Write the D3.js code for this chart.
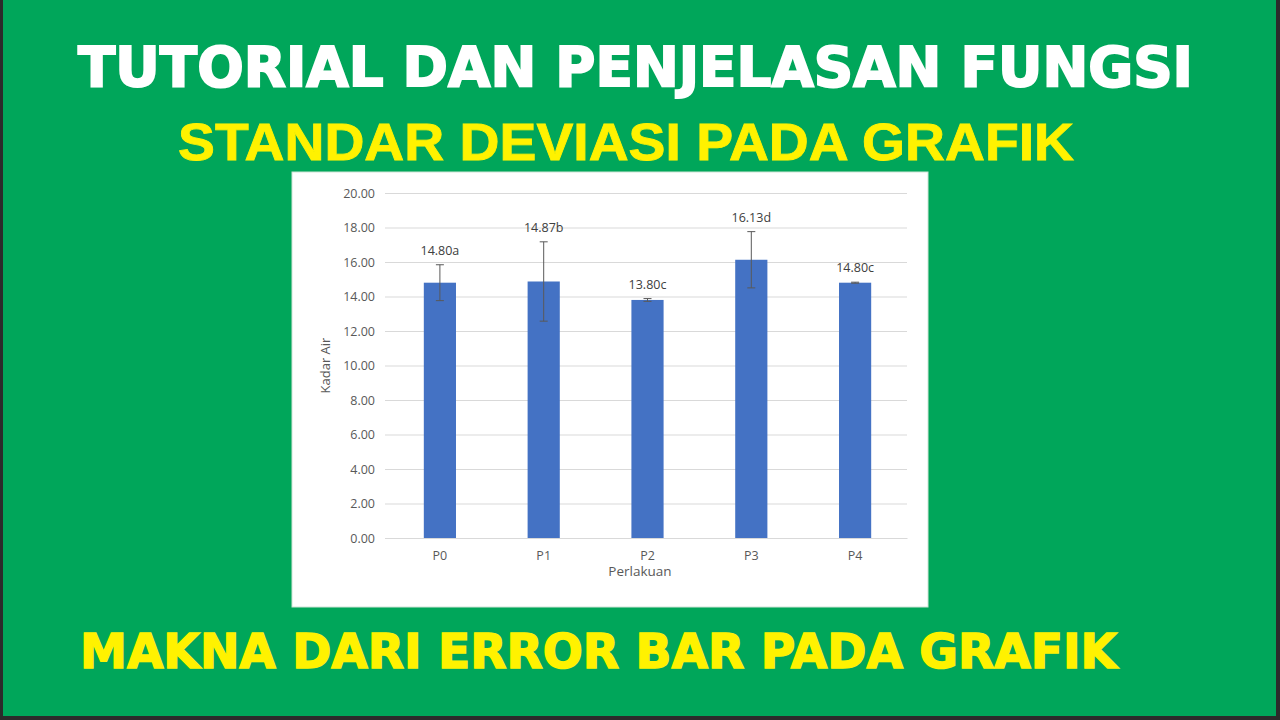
<!DOCTYPE html>
<html lang="id">
<head>
<meta charset="utf-8">
<script src="https://d3js.org/d3.v7.min.js"></script>
<style>
  html, body { margin: 0; padding: 0; background: #2b2b2b; }
  svg { display: block; }
</style>
</head>
<body>
<div id="my_dataviz"></div>
<script>
// data
var perlakuan = ["P0", "P1", "P2", "P3", "P4"];
var kadarAir = [14.80, 14.87, 13.80, 16.13, 14.80];
var stDev = [1.04, 2.30, 0.08, 1.63, 0.03];
var notasi = ["a", "b", "c", "d", "c"];
var yTicks = [0, 2, 4, 6, 8, 10, 12, 14, 16, 18, 20];

var W = 1280, H = 720;

var svg = d3.select("#my_dataviz")
  .append("svg")
    .attr("width", W)
    .attr("height", H);

// dark frame + green slide
svg.append("rect")
    .attr("x", 0).attr("y", 0).attr("width", W).attr("height", H)
    .attr("fill", "#2b2b2b");
svg.append("rect")
    .attr("x", 3).attr("y", 0).attr("width", W - 7).attr("height", H - 4)
    .attr("fill", "#00a65a");

// headings
svg.append("text")
    .attr("x", 78).attr("y", 86)
    .attr("textLength", 1115).attr("lengthAdjust", "spacingAndGlyphs")
    .style("font-family", "'DejaVu Sans', sans-serif")
    .style("font-weight", "bold")
    .style("font-size", "56px")
    .attr("fill", "#ffffff")
    .attr("stroke", "#ffffff").attr("stroke-width", 2)
    .text("TUTORIAL DAN PENJELASAN FUNGSI");

svg.append("text")
    .attr("x", 178).attr("y", 160)
    .attr("textLength", 896).attr("lengthAdjust", "spacingAndGlyphs")
    .style("font-family", "'Liberation Sans', Arial, sans-serif")
    .style("font-weight", "bold")
    .style("font-size", "51px")
    .attr("fill", "#fff200")
    .attr("stroke", "#fff200").attr("stroke-width", 0.8)
    .text("STANDAR DEVIASI PADA GRAFIK");

svg.append("text")
    .attr("x", 80).attr("y", 668)
    .attr("textLength", 1037).attr("lengthAdjust", "spacingAndGlyphs")
    .style("font-family", "'DejaVu Sans', sans-serif")
    .style("font-weight", "bold")
    .style("font-size", "48px")
    .attr("fill", "#fff200")
    .attr("stroke", "#fff200").attr("stroke-width", 1.5)
    .text("MAKNA DARI ERROR BAR PADA GRAFIK");

// chart box (excel screenshot)
svg.append("rect")
    .attr("x", 292).attr("y", 172).attr("width", 636).attr("height", 435)
    .attr("fill", "#ffffff")
    .attr("stroke", "#cfe3d6");

var margin = {top: 193, left: 388, right: 907, bottom: 538};

var chart = svg.append("g");

var x = d3.scaleBand()
    .domain(perlakuan)
    .range([margin.left, margin.right])
    .paddingInner(0.69)
    .paddingOuter(0.345);

var y = d3.scaleLinear()
    .domain([0, 20])
    .range([margin.bottom, margin.top]);

// gridlines + y labels
var yAxis = chart.append("g")
    .attr("transform", "translate(" + (margin.left - 3) + ",0)")
    .call(d3.axisLeft(y)
      .tickValues(yTicks)
      .tickSize(-(margin.right - margin.left + 3))
      .tickPadding(10)
      .tickFormat(d3.format(".2f")));
yAxis.select(".domain").remove();
yAxis.selectAll(".tick line").attr("stroke", "#d9d9d9");
yAxis.selectAll(".tick text")
    .attr("fill", "#595959")
    .style("font-family", "'Open Sans', sans-serif")
    .style("font-size", "12.5px");

// x labels
var xAxis = chart.append("g")
    .attr("transform", "translate(0," + margin.bottom + ")")
    .call(d3.axisBottom(x).tickSize(0).tickPadding(13));
xAxis.select(".domain").attr("stroke", "#d9d9d9");
xAxis.selectAll(".tick text")
    .attr("fill", "#595959")
    .style("font-family", "'Open Sans', sans-serif")
    .style("font-size", "12.5px");

// bars
chart.selectAll(".bar")
  .data(perlakuan)
  .enter()
  .append("rect")
    .attr("class", "bar")
    .attr("x", function(d) { return x(d); })
    .attr("width", x.bandwidth())
    .attr("y", function(d, i) { return y(kadarAir[i]); })
    .attr("height", function(d, i) { return y(0) - y(kadarAir[i]); })
    .attr("fill", "#4472c4");

// error bars
var err = chart.selectAll(".err")
  .data(perlakuan)
  .enter()
  .append("g")
    .attr("class", "err")
    .attr("stroke", "#595959")
    .attr("stroke-width", 1);
err.append("line")
    .attr("x1", function(d) { return x(d) + x.bandwidth() / 2; })
    .attr("x2", function(d) { return x(d) + x.bandwidth() / 2; })
    .attr("y1", function(d, i) { return y(kadarAir[i] - stDev[i]); })
    .attr("y2", function(d, i) { return y(kadarAir[i] + stDev[i]); });
[1, -1].forEach(function(s) {
  err.append("line")
      .attr("x1", function(d) { return x(d) + x.bandwidth() / 2 - 4; })
      .attr("x2", function(d) { return x(d) + x.bandwidth() / 2 + 4; })
      .attr("y1", function(d, i) { return y(kadarAir[i] + s * stDev[i]); })
      .attr("y2", function(d, i) { return y(kadarAir[i] + s * stDev[i]); });
});

// value labels
chart.selectAll(".lbl")
  .data(perlakuan)
  .enter()
  .append("text")
    .attr("class", "lbl")
    .attr("x", function(d) { return x(d) + x.bandwidth() / 2; })
    .attr("y", function(d, i) { return y(kadarAir[i] + stDev[i]) - 10; })
    .attr("text-anchor", "middle")
    .attr("fill", "#404040")
    .style("font-family", "'Open Sans', sans-serif")
    .style("font-size", "12.5px")
    .text(function(d, i) { return kadarAir[i].toFixed(2) + notasi[i]; });

// axis titles
chart.append("text")
    .attr("transform", "translate(330," + ((margin.top + margin.bottom) / 2) + ") rotate(-90)")
    .attr("text-anchor", "middle")
    .attr("fill", "#595959")
    .style("font-family", "'Open Sans', sans-serif")
    .style("font-size", "13px")
    .text("Kadar Air");

chart.append("text")
    .attr("x", 640)
    .attr("y", 576)
    .attr("text-anchor", "middle")
    .attr("fill", "#595959")
    .style("font-family", "'Open Sans', sans-serif")
    .style("font-size", "13.5px")
    .text("Perlakuan");
</script>
</body>
</html>
